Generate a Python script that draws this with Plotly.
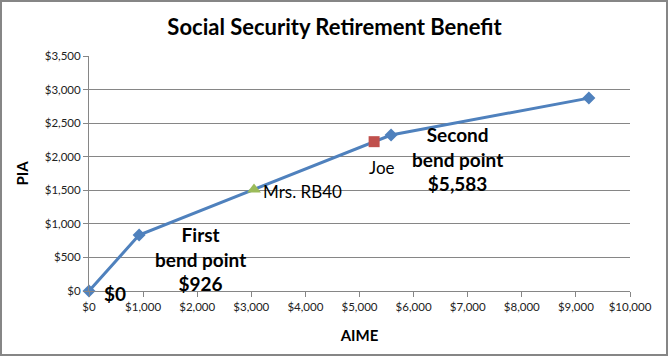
import plotly.graph_objects as go

# Benefit curve (AIME -> PIA)
aime = [0, 926, 5583, 9240]
pia = [0, 833, 2323, 2873]

# Individual points
mrs_aime = [3050]
mrs_pia = [1513]
joe_aime = [5270]
joe_pia = [2224]

x_ticks = list(range(0, 10001, 1000))
x_tick_labels = ["$" + f"{v:,}" for v in x_ticks]
y_ticks = list(range(0, 3501, 500))
y_tick_labels = ["$" + f"{v:,}" for v in y_ticks]

FONT = "Lato, Calibri, 'Liberation Sans', sans-serif"

fig = go.Figure()
fig.add_trace(go.Scatter(x=aime, y=pia, mode="lines+markers",
                         line=dict(color="#4F81BD", width=3),
                         marker=dict(symbol="diamond", size=10, color="#4F81BD"),
                         showlegend=False, cliponaxis=False))
fig.add_trace(go.Scatter(x=mrs_aime, y=mrs_pia, mode="markers",
                         marker=dict(symbol="triangle-up", size=12, color="#9BBB59"),
                         showlegend=False))
fig.add_trace(go.Scatter(x=joe_aime, y=joe_pia, mode="markers",
                         marker=dict(symbol="square", size=11, color="#C0504D"),
                         showlegend=False))

fig.update_layout(
    width=669, height=357,
    margin=dict(l=89, r=39, t=56, b=66),
    paper_bgcolor="white", plot_bgcolor="white",
    font=dict(family=FONT, color="#000000"),
    title=dict(text="<b>Social Security Retirement Benefit</b>", x=0.5, xanchor="center",
               y=1 - 27 / 357, yanchor="middle", font=dict(size=22, family=FONT)),
    xaxis=dict(range=[0, 10000], tickvals=x_ticks, ticktext=x_tick_labels,
               showgrid=False, showline=True, linecolor="#868686", linewidth=1,
               ticks="outside", ticklen=5, tickcolor="#868686", automargin=False,
               tickfont=dict(size=11.5, family=FONT, color="#222222"), zeroline=False,
               title=dict(text="<b>AIME</b>", font=dict(size=15, family=FONT), standoff=18)),
    yaxis=dict(range=[0, 3500], tickvals=y_ticks, ticktext=y_tick_labels,
               showgrid=True, gridcolor="#868686", gridwidth=1,
               showline=True, linecolor="#868686", linewidth=1,
               ticks="outside", ticklen=5, tickcolor="#868686", automargin=False,
               tickfont=dict(size=11.5, family=FONT, color="#222222"), zeroline=False,
               title=dict(text="<b>PIA</b>", font=dict(size=15, family=FONT), standoff=12)),
)

# Outer chart border
fig.add_shape(type="rect", xref="paper", yref="paper",
              x0=-88 / 541, x1=578 / 541, y0=(291 - 355) / 235, y1=(291 - 1) / 235,
              line=dict(color="#868686", width=2), fillcolor="rgba(0,0,0,0)", layer="below")

ann_font_b = dict(size=19, family=FONT, color="#000000")
fig.add_annotation(x=aime[0], y=pia[0], text="<b>$0</b>", showarrow=False,
                   xshift=26, yshift=-2, font=ann_font_b)
fig.add_annotation(x=2060, y=480, text="<b>First<br>bend point<br>$926</b>", showarrow=False,
                   font=ann_font_b, align="center")
fig.add_annotation(x=6820, y=1960, text="<b>Second<br>bend point<br>$5,583</b>", showarrow=False,
                   font=ann_font_b, align="center")
fig.add_annotation(x=mrs_aime[0], y=mrs_pia[0], text="Mrs. RB40", showarrow=False,
                   xanchor="left", xshift=7, yshift=-2,
                   font=dict(size=17, family=FONT, color="#000000"))
fig.add_annotation(x=joe_aime[0], y=joe_pia[0], text="Joe", showarrow=False,
                   yshift=-26, xshift=8,
                   font=dict(size=17, family=FONT, color="#000000"))

fig.write_html("out.html", config={"displayModeBar": False},
               post_script="document.body.style.margin='0';")
